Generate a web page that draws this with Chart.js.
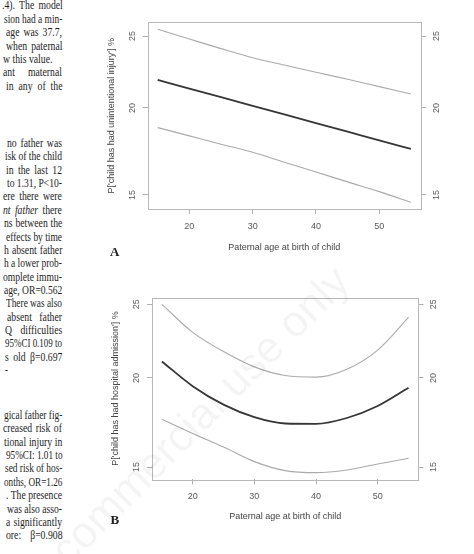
<!DOCTYPE html>
<html>
<head>
<meta charset="utf-8">
<script src="https://cdn.jsdelivr.net/npm/chart.js@4.4.1/dist/chart.umd.min.js"></script>
<style>
  html, body { margin: 0; padding: 0; background: #fff; }
  #page { position: relative; width: 474px; height: 554px; overflow: hidden; }
  .line { position: absolute; white-space: pre; transform-origin: 0 0;
          font-family: "Liberation Serif", "Times New Roman", serif; font-size: 13.5px;
          line-height: 13.4px; color: #1e1e1e; }
  .panel { position: absolute; font: bold 13px/14px "Liberation Serif", serif; color: #222; }
  canvas { position: absolute; }
  #mark { position: absolute; left: -25.4px; top: 608.9px; transform: rotate(-45deg);
          transform-origin: 0 0; white-space: nowrap; pointer-events: none; z-index: 5;
          font: 44px/44px "Liberation Sans", Arial, sans-serif; color: rgba(0,0,0,0.045); }
</style>
</head>
<body>
<div id="page">
  <canvas id="chartA" width="374" height="270" style="left:100px;top:0;width:374px;height:270px"></canvas>
  <canvas id="chartB" width="374" height="277" style="left:100px;top:277px;width:374px;height:277px"></canvas>
  <div class="panel" style="left:110px;top:244.6px">A</div>
  <div class="panel" style="left:110.5px;top:512.9px">B</div>
  <div id="mark">Non-commercial use only</div>
</div>
<script>
// paternal age at birth of child (years)
const ages = [15, 20, 25, 30, 35, 40, 45, 50, 55];
const xTicks = [20, 30, 40, 50];
const yTicks = [15, 20, 25];

// A: P(child has had unintentional injury), %
const injuryUpper = [25.51, 24.78, 24.07, 23.41, 22.89, 22.38, 21.90, 21.40, 20.91];
const injuryFit   = [21.85, 21.27, 20.70, 20.14, 19.59, 19.05, 18.52, 18.01, 17.50];
const injuryLower = [18.77, 18.27, 17.78, 17.31, 16.75, 16.21, 15.68, 15.17, 14.63];

// B: P(child has had hospital admission), %
const admitUpper = [25.00, 23.00, 21.70, 20.70, 20.15, 20.05, 20.55, 21.80, 24.05];
const admitFit   = [21.05, 19.49, 18.38, 17.66, 17.30, 17.28, 17.61, 18.30, 19.39];
const admitLower = [17.54, 16.75, 16.02, 15.27, 14.82, 14.72, 14.85, 15.15, 15.44];

const FONT = '"Liberation Sans", Arial, Helvetica, sans-serif';
const logit = p => Math.log(p / (100 - p));
const expit = z => 100 / (1 + Math.exp(-z));

// y axis is on the logit scale, as in the original R plot
class LogitScale extends Chart.LinearScale {
  getPixelForValue(value) {
    const lo = logit(this.min), hi = logit(this.max);
    return this.getPixelForDecimal((logit(value) - lo) / (hi - lo));
  }
  getValueForPixel(pixel) {
    const lo = logit(this.min), hi = logit(this.max);
    return expit(lo + this.getDecimalForPixel(pixel) * (hi - lo));
  }
}
LogitScale.id = 'logit';
LogitScale.defaults = Chart.LinearScale.defaults;
Chart.register(LogitScale);

// R style 4% range extension
function xRange(v) {
  const lo = Math.min(...v), hi = Math.max(...v), d = (hi - lo) * 0.04;
  return [lo - d, hi + d];
}
function yRange(...series) {
  const z = series.flat().map(logit);
  const lo = Math.min(...z), hi = Math.max(...z), d = (hi - lo) * 0.04;
  return [expit(lo - d), expit(hi + d)];
}

// box around the plot + rotated y tick labels on both sides
const rFrame = {
  id: 'rFrame',
  afterDraw(chart, args, opts) {
    const {ctx, chartArea: a} = chart;
    ctx.save();
    ctx.strokeStyle = '#b8b8b8';
    ctx.lineWidth = 1;
    ctx.strokeRect(Math.round(a.left) + 0.5, Math.round(a.top) + 0.5,
                   Math.round(a.right - a.left), Math.round(a.bottom - a.top));
    ctx.fillStyle = '#5a5a5a';
    ctx.font = '9px ' + FONT;
    ctx.textAlign = 'center';
    ctx.textBaseline = 'middle';
    [['y', a.left - opts.gapL], ['y2', a.right + opts.gapR]].forEach(([id, x]) => {
      const s = chart.scales[id];
      s.ticks.forEach(t => {
        ctx.save();
        ctx.translate(x, s.getPixelForValue(t.value));
        ctx.rotate(-Math.PI / 2);
        ctx.fillText(String(t.value), 0, 0);
        ctx.restore();
      });
    });
    ctx.restore();
  }
};

const tickGrid = { display: true, drawOnChartArea: false, drawTicks: true, tickLength: 5,
                   tickColor: '#b0b0b0', tickWidth: 1 };

function makeChart(id, upper, fit, lower, yTitle, g) {
  const [xMin, xMax] = xRange(ages);
  const [yMin, yMax] = yRange(upper, fit, lower);
  const pts = arr => arr.map((v, i) => ({x: ages[i], y: v}));
  const yAxis = (pos, width) => ({
    type: 'logit', position: pos, min: yMin, max: yMax, bounds: 'data',
    afterBuildTicks: s => { s.ticks = yTicks.map(v => ({value: v})); },
    afterFit: s => { s.width = width; },
    grid: tickGrid, border: {display: false},
    ticks: {display: false},
    title: {display: pos === 'left', text: yTitle, color: '#454545',
            font: {size: 9, family: FONT}, padding: {top: g.yTitlePad, bottom: 0}}
  });
  return new Chart(document.getElementById(id), {
    type: 'line',
    data: {
      datasets: [
        {data: pts(upper), borderColor: '#aaaaaa', borderWidth: 1.1},
        {data: pts(fit), borderColor: '#363636', borderWidth: 1.8},
        {data: pts(lower), borderColor: '#aaaaaa', borderWidth: 1.1}
      ]
    },
    options: {
      responsive: false,
      animation: false,
      events: [],
      layout: {padding: {top: g.padTop, left: 0, right: 0, bottom: 0}},
      elements: {point: {radius: 0}, line: {cubicInterpolationMode: 'monotone', fill: false}},
      plugins: {legend: {display: false}, tooltip: {enabled: false},
                rFrame: {gapL: 15, gapR: 15.5}},
      scales: {
        x: {
          type: 'linear', min: xMin, max: xMax,
          afterBuildTicks: s => { s.ticks = xTicks.map(v => ({value: v})); },
          afterFit: s => { s.height = g.bottomH; },
          grid: tickGrid, border: {display: false},
          ticks: {color: '#5a5a5a', font: {size: 9, family: FONT}, padding: 6.5,
                  maxRotation: 0, autoSkip: false},
          title: {display: true, text: 'Paternal age at birth of child', color: '#454545',
                  font: {size: 9, family: FONT}, padding: {top: 0, bottom: g.xTitlePad}}
        },
        y: yAxis('left', g.leftW),
        y2: yAxis('right', g.rightW)
      }
    },
    plugins: [rFrame]
  });
}

makeChart('chartA', injuryUpper, injuryFit, injuryLower,
  "P['child has had unintentional injury'] %",
  {padTop: 22.4, leftW: 47.6, rightW: 53, bottomH: 60.8, xTitlePad: 16.6, yTitlePad: 6.6});
makeChart('chartB', admitUpper, admitFit, admitLower,
  "P['child has had hospital admission'] %",
  {padTop: 20.6, leftW: 52, rightW: 55.6, bottomH: 74.6, xTitlePad: 31.9, yTitlePad: 10.6});

// cropped column of the article text on the left: [text, left, centre y, right]
const TEXT_RIGHT = 62.3;
const columnLines = [
  ['.4). The model', 1.5, 5.9],
  ['sion had a min-', 3.9, 19.3],
  ['age was 37.7,', 6.3, 32.7],
  ['when paternal', 5.8, 46.1],
  ['w this value.', 3.4, 59.5, 55],
  ['ant maternal', 3.4, 72.9],
  ['in any of the', 5.8, 86.3],
  ['no father was', 7.3, 143.5],
  ['isk of the child', 5.3, 156.9],
  ['in the last 12', 6.3, 170.2],
  ['to 1.31, P&lt;10-', 7.3, 183.6],
  ['ere there were', 3.4, 196.9],
  ['<i>nt father</i> there', 3.4, 210.3],
  ['ns between the', 3.9, 223.7],
  ['effects by time', 6.3, 237.0],
  ['h absent father', 3.9, 250.4],
  ['h a lower prob-', 4.4, 263.7],
  ['omplete immu-', 3.4, 277.1],
  ['age, OR=0.562', 3.9, 290.5],
  ['There was also', 6.3, 303.8],
  ['absent father', 7.3, 317.2],
  ['Q difficulties', 4.9, 330.5],
  ['95%CI 0.109 to', 5.3, 343.9],
  ['s old β=0.697', 4.9, 357.3],
  ['-', 4.9, 370.6, 0],
  ['gical father fig-', 3.9, 415.2],
  ['creased risk of', 3.4, 428.6],
  ['tional injury in', 3.9, 442.0],
  ['95%CI: 1.01 to', 5.8, 455.4],
  ['sed risk of hos-', 4.9, 468.8],
  ['onths, OR=1.26', 3.9, 482.2],
  ['. The presence', 6.3, 495.6],
  ['was also asso-', 7.3, 509.0],
  ['a significantly', 6.3, 522.4],
  ['ore: β=0.908', 5.8, 535.8]
];
const page = document.getElementById('page');
columnLines.forEach(([html, left, y, right]) => {
  const el = document.createElement('div');
  el.className = 'line';
  el.innerHTML = html;
  el.style.left = left + 'px';
  el.style.top = (y - 7.5) + 'px';
  page.appendChild(el);
  if (right === 0) { el.style.transform = 'scaleX(0.65)'; return; }
  const target = (right || TEXT_RIGHT) - left;
  const natural = el.getBoundingClientRect().width;
  const s = Math.min(0.72, Math.max(0.55, target / natural));
  const spare = target / s - natural;
  if (right === undefined && spare > 0.5) {
    const gaps = el.textContent.split(' ').length - 1;
    if (gaps) el.style.wordSpacing = (spare / gaps) + 'px';
    else el.style.letterSpacing = (spare / el.textContent.length) + 'px';
  }
  el.style.transform = 'scaleX(' + s + ')';
});
</script>
</body>
</html>
